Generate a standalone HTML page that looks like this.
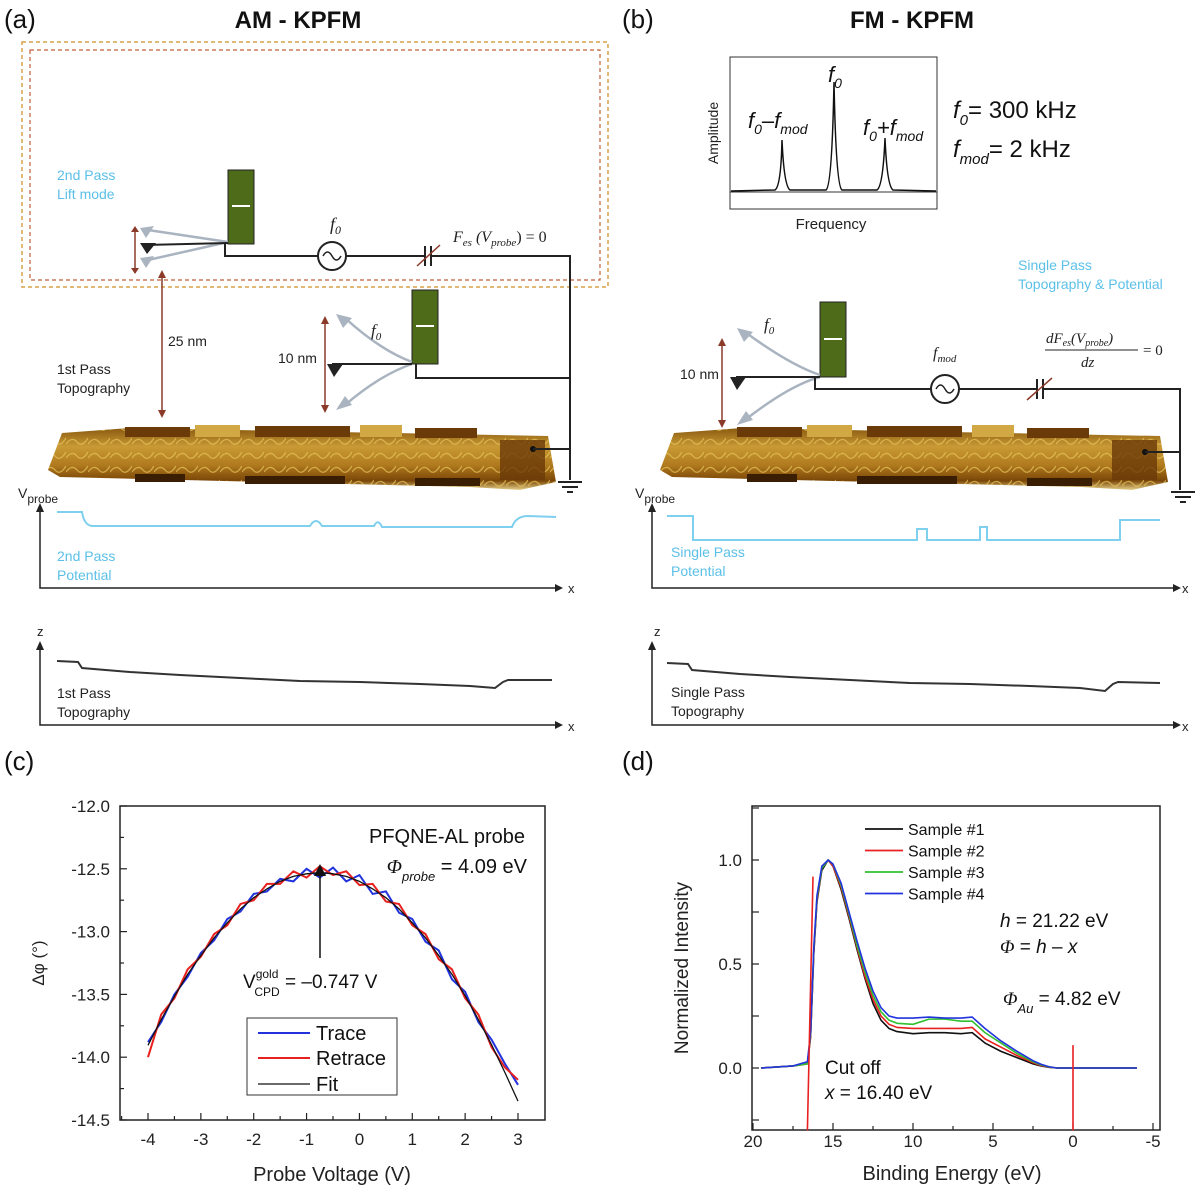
<!DOCTYPE html>
<html><head><meta charset="utf-8"><style>
html,body{margin:0;padding:0;background:#fff}
svg{display:block;font-family:"Liberation Sans",sans-serif}
.bl{fill:#5bc0e8;font-size:14px}
.bk{fill:#222;font-size:14px}
</style></head><body>
<svg id="fig" width="1200" height="1192" viewBox="0 0 1200 1192" xmlns="http://www.w3.org/2000/svg">
<defs>
<linearGradient id="topo" x1="0" y1="0" x2="0" y2="1">
<stop offset="0" stop-color="#8a5a10"/><stop offset="0.3" stop-color="#c99a35"/><stop offset="0.6" stop-color="#b07a1e"/><stop offset="0.85" stop-color="#7a4608"/><stop offset="1" stop-color="#e6d28a"/>
</linearGradient>
<pattern id="wav" width="22" height="14" patternUnits="userSpaceOnUse"><path d="M0 10 Q6 2 11 8 T22 4" stroke="#e8c45a" stroke-width="1.3" fill="none" opacity="0.7"/></pattern>
</defs>

<!-- panel labels / titles -->
<text x="4" y="28" font-size="26" fill="#111">(a)</text>
<text x="298" y="28" font-size="24" font-weight="bold" text-anchor="middle" fill="#111">AM - KPFM</text>
<text x="622" y="28" font-size="26" fill="#111">(b)</text>
<text x="912" y="28" font-size="24" font-weight="bold" text-anchor="middle" fill="#111">FM - KPFM</text>
<text x="4" y="770" font-size="26" fill="#111">(c)</text>
<text x="622" y="770" font-size="26" fill="#111">(d)</text>

<!-- ===== Panel A ===== -->
<g>
<rect x="22" y="42" width="586" height="245" fill="none" stroke="#d9a04a" stroke-width="1.5" stroke-dasharray="4 3"/>
<rect x="30" y="50" width="570" height="230" fill="none" stroke="#c0603a" stroke-width="1.2" stroke-dasharray="4 3"/>
<text class="bl" x="57" y="180">2nd Pass</text>
<text class="bl" x="57" y="199">Lift mode</text>
<rect x="228" y="170" width="26" height="74" fill="#4e6b1a" stroke="#222"/>
<line x1="232" y1="206" x2="250" y2="206" stroke="#fff" stroke-width="2"/>
<line x1="228" y1="242" x2="148" y2="230" stroke="#aab4c0" stroke-width="2.5"/>
<line x1="228" y1="242" x2="148" y2="260" stroke="#aab4c0" stroke-width="2.5"/>
<line x1="228" y1="243" x2="145" y2="245" stroke="#222" stroke-width="2"/>
<polygon points="140,228 154,226 146,238" fill="#aab4c0"/>
<polygon points="140,258 154,256 146,268" fill="#aab4c0"/>
<polygon points="140,243 156,243 147,254" fill="#222"/>
<line x1="135" y1="228" x2="135" y2="272" stroke="#8b3a2a" stroke-width="1.5"/>
<polygon points="131,232 139,232 135,226" fill="#8b3a2a"/><polygon points="131,268 139,268 135,274" fill="#8b3a2a"/>
<polyline points="225,244 225,256 318,256" fill="none" stroke="#222" stroke-width="2"/>
<circle cx="332" cy="256" r="14" fill="#fff" stroke="#222" stroke-width="2"/>
<path d="M323 256 q4.5 -8 9 0 t9 0" fill="none" stroke="#222" stroke-width="1.5"/>
<polyline points="346,256 425,256" fill="none" stroke="#222" stroke-width="2"/>
<line x1="425" y1="246" x2="425" y2="266" stroke="#222" stroke-width="2"/><line x1="431" y1="246" x2="431" y2="266" stroke="#222" stroke-width="2"/>
<line x1="417" y1="266" x2="440" y2="245" stroke="#8b3a2a" stroke-width="1.5"/>
<polyline points="431,256 570,256 570,480" fill="none" stroke="#222" stroke-width="2"/>
<line x1="558" y1="482" x2="582" y2="482" stroke="#222" stroke-width="2"/><line x1="562" y1="487" x2="578" y2="487" stroke="#222" stroke-width="2"/><line x1="567" y1="492" x2="573" y2="492" stroke="#222" stroke-width="2"/>
<text x="330" y="230" font-family="Liberation Serif,serif" font-style="italic" font-size="18" fill="#222">f<tspan font-size="12" dy="4">0</tspan></text>
<text x="453" y="242" font-family="Liberation Serif,serif" font-style="italic" font-size="16" fill="#222">F<tspan font-size="11" dy="4">es</tspan><tspan dy="-4"> (V</tspan><tspan font-size="11" dy="4">probe</tspan><tspan dy="-4" font-style="normal">)  =  0</tspan></text>
<line x1="162" y1="272" x2="162" y2="415" stroke="#8b3a2a" stroke-width="1.5"/>
<polygon points="158,278 166,278 162,270" fill="#8b3a2a"/><polygon points="158,410 166,410 162,418" fill="#8b3a2a"/>
<text class="bk" x="168" y="346">25 nm</text>
<text class="bk" x="57" y="374">1st Pass</text>
<text class="bk" x="57" y="393">Topography</text>
<rect x="412" y="290" width="26" height="74" fill="#4e6b1a" stroke="#222"/>
<line x1="416" y1="326" x2="434" y2="326" stroke="#fff" stroke-width="2"/>
<path d="M412 362 Q380 350 345 318" fill="none" stroke="#aab4c0" stroke-width="2.5"/>
<path d="M412 364 Q380 375 345 405" fill="none" stroke="#aab4c0" stroke-width="2.5"/>
<polygon points="336,314 352,318 343,328" fill="#aab4c0"/><polygon points="336,410 352,405 345,396" fill="#aab4c0"/>
<line x1="412" y1="364" x2="332" y2="364" stroke="#222" stroke-width="2"/>
<polygon points="327,364 343,364 334,377" fill="#222"/>
<text x="371" y="336" font-family="Liberation Serif,serif" font-style="italic" font-size="17" fill="#222">f<tspan font-size="11" dy="4">0</tspan></text>
<polyline points="416,364 416,378 570,378" fill="none" stroke="#222" stroke-width="2"/>
<line x1="325" y1="318" x2="325" y2="410" stroke="#8b3a2a" stroke-width="1.5"/>
<polygon points="321,324 329,324 325,316" fill="#8b3a2a"/><polygon points="321,405 329,405 325,413" fill="#8b3a2a"/>
<text class="bk" x="278" y="363">10 nm</text>
<g>
<polygon points="62,433 130,428 548,436 556,482 520,490 470,487 60,477 48,470" fill="url(#topo)"/>
<polygon points="62,433 130,428 548,436 556,482 520,490 470,487 60,477 48,470" fill="url(#wav)"/>
<rect x="125" y="427" width="65" height="10" fill="#6a3a08"/><rect x="255" y="426" width="95" height="11" fill="#6a3a08"/><rect x="415" y="428" width="62" height="10" fill="#6a3a08"/>
<rect x="195" y="425" width="45" height="12" fill="#d2a845"/><rect x="360" y="425" width="42" height="12" fill="#d2a845"/>
<rect x="135" y="474" width="50" height="8" fill="#3a1e04"/><rect x="245" y="476" width="100" height="8" fill="#3a1e04"/><rect x="415" y="478" width="65" height="8" fill="#3a1e04"/>
<rect x="500" y="440" width="45" height="40" fill="#6a3a08" opacity="0.8"/>
<circle cx="533" cy="449" r="3" fill="#111"/><line x1="533" y1="449" x2="570" y2="449" stroke="#222" stroke-width="2"/>
</g>
<text x="18" y="498" font-size="14" fill="#222">V<tspan font-size="12" dy="5">probe</tspan></text>
<polyline points="40,508 40,588 557,588" fill="none" stroke="#222" stroke-width="1.5"/>
<polygon points="36,512 44,512 40,503" fill="#222"/><polygon points="555,584 555,592 563,588" fill="#222"/>
<text x="568" y="593" font-size="13" fill="#222">x</text>
<path d="M57 512 L82 512 Q84 525 92 526 L310 526 Q316 516 322 526 L374 526 Q378 518 382 527 L512 527 Q516 516 528 516 L556 517" fill="none" stroke="#7fcfee" stroke-width="2"/>
<text class="bl" x="57" y="561">2nd Pass</text><text class="bl" x="57" y="580">Potential</text>
<text x="37" y="636" font-size="13" fill="#222">z</text>
<polyline points="40,646 40,725 557,725" fill="none" stroke="#222" stroke-width="1.5"/>
<polygon points="36,650 44,650 40,641" fill="#222"/><polygon points="555,721 555,729 563,725" fill="#222"/>
<text x="568" y="731" font-size="13" fill="#222">x</text>
<path d="M57 661 L78 662 L82 668 L130 672 L180 675 L260 679 L300 681 L360 682 L420 684 L470 686 L495 688 L503 682 L508 680 L552 680" fill="none" stroke="#333" stroke-width="2"/>
<text class="bk" x="57" y="698">1st Pass</text><text class="bk" x="57" y="717">Topography</text>
</g>

<!-- ===== Panel B ===== -->
<g>
<rect x="730" y="57" width="207" height="152" fill="#fff" stroke="#333"/>
<line x1="730" y1="192" x2="937" y2="192" stroke="#333"/>
<path d="M731 191 L775 190 Q781 186 782 140 Q784 186 790 190 L826 190 Q832 186 834 82 Q836 186 842 190 L877 190 Q883 186 885 138 Q887 186 893 190 L936 191" fill="none" stroke="#111" stroke-width="1.5"/>
<text x="718" y="133" font-size="14" fill="#222" transform="rotate(-90 718 133)" text-anchor="middle">Amplitude</text>
<text x="831" y="229" font-size="15" fill="#222" text-anchor="middle">Frequency</text>
<text x="748" y="128" font-size="22" font-style="italic" fill="#111">f<tspan font-size="14" dy="6">0</tspan><tspan dy="-6">–f</tspan><tspan font-size="14" dy="6">mod</tspan></text>
<text x="828" y="82" font-size="22" font-style="italic" fill="#111">f<tspan font-size="14" dy="6">0</tspan></text>
<text x="863" y="135" font-size="22" font-style="italic" fill="#111">f<tspan font-size="14" dy="6">0</tspan><tspan dy="-6">+f</tspan><tspan font-size="14" dy="6">mod</tspan></text>
<text x="953" y="118" font-size="24" fill="#111"><tspan font-style="italic">f</tspan><tspan font-size="15" dy="7" font-style="italic">0</tspan><tspan dy="-7">= 300 kHz</tspan></text>
<text x="953" y="157" font-size="24" fill="#111"><tspan font-style="italic">f</tspan><tspan font-size="15" dy="7" font-style="italic">mod</tspan><tspan dy="-7">= 2 kHz</tspan></text>
<text class="bl" x="1018" y="270">Single Pass</text><text class="bl" x="1018" y="289">Topography &amp; Potential</text>
<rect x="820" y="302" width="26" height="75" fill="#4e6b1a" stroke="#222"/>
<line x1="824" y1="339" x2="842" y2="339" stroke="#fff" stroke-width="2"/>
<path d="M820 375 Q790 365 745 332" fill="none" stroke="#aab4c0" stroke-width="2.5"/>
<path d="M820 377 Q790 385 745 420" fill="none" stroke="#aab4c0" stroke-width="2.5"/>
<polygon points="737,328 753,332 744,342" fill="#aab4c0"/><polygon points="737,425 753,420 746,411" fill="#aab4c0"/>
<line x1="820" y1="377" x2="736" y2="377" stroke="#222" stroke-width="2"/>
<polygon points="730,377 746,377 737,390" fill="#222"/>
<text x="764" y="330" font-family="Liberation Serif,serif" font-style="italic" font-size="17" fill="#222">f<tspan font-size="11" dy="4">0</tspan></text>
<line x1="722" y1="340" x2="722" y2="425" stroke="#8b3a2a" stroke-width="1.5"/>
<polygon points="718,346 726,346 722,338" fill="#8b3a2a"/><polygon points="718,420 726,420 722,428" fill="#8b3a2a"/>
<text class="bk" x="680" y="379">10 nm</text>
<polyline points="815,377 815,389 931,389" fill="none" stroke="#222" stroke-width="2"/>
<circle cx="945" cy="389" r="14" fill="#fff" stroke="#222" stroke-width="2"/>
<path d="M936 389 q4.5 -8 9 0 t9 0" fill="none" stroke="#222" stroke-width="1.5"/>
<polyline points="959,389 1037,389" fill="none" stroke="#222" stroke-width="2"/>
<line x1="1037" y1="379" x2="1037" y2="399" stroke="#222" stroke-width="2"/><line x1="1043" y1="379" x2="1043" y2="399" stroke="#222" stroke-width="2"/>
<line x1="1027" y1="400" x2="1052" y2="378" stroke="#8b3a2a" stroke-width="1.5"/>
<polyline points="1043,389 1180,389 1180,490" fill="none" stroke="#222" stroke-width="2"/>
<line x1="1171" y1="492" x2="1195" y2="492" stroke="#222" stroke-width="2"/><line x1="1175" y1="497" x2="1191" y2="497" stroke="#222" stroke-width="2"/><line x1="1180" y1="502" x2="1186" y2="502" stroke="#222" stroke-width="2"/>
<text x="933" y="358" font-family="Liberation Serif,serif" font-style="italic" font-size="16" fill="#222">f<tspan font-size="11" dy="4">mod</tspan></text>
<g font-family="Liberation Serif,serif" font-style="italic" font-size="15" fill="#222">
<text x="1046" y="343">dF<tspan font-size="10" dy="3">es</tspan><tspan dy="-3">(V</tspan><tspan font-size="10" dy="3">probe</tspan><tspan dy="-3">)</tspan></text>
<line x1="1045" y1="350" x2="1138" y2="350" stroke="#222"/>
<text x="1081" y="367">dz</text>
<text x="1143" y="355" font-style="normal">=  0</text>
</g>
<g>
<polygon points="674,433 742,428 1160,436 1168,482 1132,490 1082,487 672,477 660,470" fill="url(#topo)"/>
<polygon points="674,433 742,428 1160,436 1168,482 1132,490 1082,487 672,477 660,470" fill="url(#wav)"/>
<rect x="737" y="427" width="65" height="10" fill="#6a3a08"/><rect x="867" y="426" width="95" height="11" fill="#6a3a08"/><rect x="1027" y="428" width="62" height="10" fill="#6a3a08"/>
<rect x="807" y="425" width="45" height="12" fill="#d2a845"/><rect x="972" y="425" width="42" height="12" fill="#d2a845"/>
<rect x="747" y="474" width="50" height="8" fill="#3a1e04"/><rect x="857" y="476" width="100" height="8" fill="#3a1e04"/><rect x="1027" y="478" width="65" height="8" fill="#3a1e04"/>
<rect x="1112" y="440" width="45" height="40" fill="#6a3a08" opacity="0.8"/>
<circle cx="1145" cy="452" r="3" fill="#111"/><line x1="1145" y1="452" x2="1180" y2="452" stroke="#222" stroke-width="2"/>
</g>
<text x="635" y="498" font-size="14" fill="#222">V<tspan font-size="12" dy="5">probe</tspan></text>
<polyline points="652,508 652,588 1175,588" fill="none" stroke="#222" stroke-width="1.5"/>
<polygon points="648,512 656,512 652,503" fill="#222"/><polygon points="1173,584 1173,592 1181,588" fill="#222"/>
<text x="1182" y="593" font-size="13" fill="#222">x</text>
<polyline points="667,516 693,516 693,540 917,540 917,529 927,529 927,540 980,540 980,527 987,527 987,540 1120,540 1120,520 1160,520" fill="none" stroke="#7fcfee" stroke-width="2"/>
<text class="bl" x="671" y="557">Single Pass</text><text class="bl" x="671" y="576">Potential</text>
<text x="654" y="636" font-size="13" fill="#222">z</text>
<polyline points="652,646 652,725 1175,725" fill="none" stroke="#222" stroke-width="1.5"/>
<polygon points="648,650 656,650 652,641" fill="#222"/><polygon points="1173,721 1173,729 1181,725" fill="#222"/>
<text x="1182" y="731" font-size="13" fill="#222">x</text>
<path d="M667 663 L688 664 L692 670 L740 674 L790 677 L870 681 L910 683 L970 684 L1030 686 L1080 688 L1105 691 L1113 684 L1118 682 L1160 683" fill="none" stroke="#333" stroke-width="2"/>
<text class="bk" x="671" y="697">Single Pass</text><text class="bk" x="671" y="716">Topography</text>
</g>

<g id="chartC"></g>
<g id="chartD"></g>
</svg>
<script>
// ---- Panel C data ----
const cVoltage = [-4,-3.75,-3.5,-3.25,-3,-2.75,-2.5,-2.25,-2,-1.75,-1.5,-1.25,-1,-0.75,-0.5,-0.25,0,0.25,0.5,0.75,1,1.25,1.5,1.75,2,2.25,2.5,2.75,3];
const cTrace = [-13.88,-13.72,-13.50,-13.36,-13.17,-13.07,-12.90,-12.84,-12.70,-12.68,-12.58,-12.60,-12.50,-12.57,-12.49,-12.60,-12.55,-12.70,-12.68,-12.85,-12.90,-13.08,-13.15,-13.38,-13.48,-13.72,-13.86,-14.05,-14.22];
const cRetrace = [-14.0,-13.66,-13.53,-13.30,-13.20,-13.02,-12.95,-12.78,-12.75,-12.62,-12.62,-12.52,-12.57,-12.48,-12.55,-12.52,-12.63,-12.62,-12.76,-12.78,-12.95,-13.02,-13.22,-13.30,-13.53,-13.66,-13.92,-14.08,-14.18];
const cFit = [-13.905,-13.70,-13.515,-13.34,-13.19,-13.05,-12.93,-12.82,-12.73,-12.66,-12.60,-12.56,-12.54,-12.53,-12.54,-12.56,-12.60,-12.66,-12.73,-12.82,-12.93,-13.05,-13.19,-13.34,-13.51,-13.70,-13.90,-14.12,-14.35];
const cXTicks = [-4,-3,-2,-1,0,1,2,3];
const cYTicks = [-12.0,-12.5,-13.0,-13.5,-14.0,-14.5];
// ---- Panel D data ----
const dEnergy = [19.5,17.5,16.6,16.4,16.2,16.0,15.7,15.3,15.0,14.5,14.0,13.5,13.0,12.5,12.0,11.5,11.0,10.0,9.0,8.0,7.0,6.3,5.5,4.5,3.5,2.5,2.0,1.5,1.0,0,-2,-4];
const dSample1 = [0,0.01,0.02,0.15,0.55,0.8,0.95,1.0,0.97,0.86,0.72,0.57,0.43,0.31,0.23,0.19,0.175,0.165,0.17,0.17,0.165,0.17,0.12,0.08,0.05,0.02,0.01,0.003,0,0,0,0];
const dSample2 = [0,0.01,0.02,0.15,0.56,0.81,0.96,1.0,0.97,0.87,0.73,0.58,0.44,0.33,0.25,0.21,0.195,0.19,0.19,0.19,0.19,0.195,0.14,0.10,0.06,0.025,0.012,0.004,0,0,0,0];
const dSample3 = [0,0.01,0.02,0.16,0.57,0.82,0.96,1.0,0.98,0.88,0.74,0.59,0.46,0.35,0.27,0.23,0.215,0.21,0.235,0.235,0.225,0.225,0.17,0.12,0.07,0.03,0.015,0.005,0,0,0,0];
const dSample4 = [0,0.01,0.03,0.17,0.58,0.83,0.97,1.0,0.98,0.89,0.75,0.61,0.48,0.37,0.29,0.25,0.24,0.24,0.245,0.24,0.24,0.245,0.19,0.13,0.08,0.035,0.018,0.006,0,0,0,0];
const dXTicks = [20,15,10,5,0,-5];
const dYTicks = [0.0,0.5,1.0];
const dSeriesNames = ["Sample #1","Sample #2","Sample #3","Sample #4"];

const NS="http://www.w3.org/2000/svg";
function mk(parent,tag,attrs,text){const e=document.createElementNS(NS,tag);for(const k in attrs)e.setAttribute(k,attrs[k]);if(text!==undefined)e.textContent=text;parent.appendChild(e);return e;}

// Panel C
(function(){
 const g=document.getElementById('chartC');
 const L=120,R=545,T=806,B=1120;
 const xs=v=>148+(v+4)*(518-148)/7;
 const ys=v=>806+(-12-v)*(1120-806)/2.5;
 mk(g,'rect',{x:L,y:T,width:R-L,height:B-T,fill:'none',stroke:'#222','stroke-width':1.5});
 for(let v=-4.5;v<=3.01;v+=0.5){const x=xs(v);const major=Number.isInteger(v);mk(g,'line',{x1:x,y1:B,x2:x,y2:B-(major?7:4),stroke:'#222','stroke-width':1.2});}
 cXTicks.forEach(v=>{const t=mk(g,'text',{x:xs(v),y:1145,'font-size':17,'text-anchor':'middle',fill:'#222'},String(v));});
 for(let v=-12;v>=-14.51;v-=0.25){const y=ys(v);const major=Math.abs(v*2-Math.round(v*2))<1e-6;mk(g,'line',{x1:L,y1:y,x2:L+(major?7:4),y2:y,stroke:'#222','stroke-width':1.2});}
 cYTicks.forEach(v=>{const t=mk(g,'text',{x:110,y:ys(v)+6,'font-size':17,'text-anchor':'end',fill:'#222'},v.toFixed(1));});
 const yt=mk(g,'text',{x:44,y:963,'font-size':17,'text-anchor':'middle',fill:'#222',transform:'rotate(-90 44 963)'},'Δφ (°)');
 
 const xt=mk(g,'text',{x:332,y:1181,'font-size':20,'text-anchor':'middle',fill:'#222'},'Probe Voltage (V)');
 
 function line(arr,col,w,name){const p=mk(g,'polyline',{points:cVoltage.map((v,i)=>xs(v)+','+ys(arr[i])).join(' '),fill:'none',stroke:col,'stroke-width':w});}
 line(cTrace,'#2233dd',2,'trace-line');
 line(cRetrace,'#e82020',2,'retrace-line');
 line(cFit,'#111',1.3,'fit-line');
 const t1=mk(g,'text',{x:525,y:843,'font-size':20,'text-anchor':'end',fill:'#111'},'PFQNE-AL probe');
 
 const t2=mk(g,'text',{x:527,y:873,'font-size':20,'text-anchor':'end',fill:'#111'});
 t2.innerHTML='<tspan font-style="italic" font-family="Liberation Serif,serif">Φ</tspan><tspan font-size="13" font-style="italic" dy="8">probe</tspan><tspan dy="-8"> = 4.09 eV</tspan>';
 
 mk(g,'line',{x1:320,y1:958,x2:320,y2:872,stroke:'#111','stroke-width':1.5});
 mk(g,'polygon',{points:'314,876 326,876 320,864',fill:'#111'});
 const t3=mk(g,'text',{x:243,y:988,'font-size':19,fill:'#111'});
 t3.innerHTML='V<tspan font-size="12" dy="-10">gold</tspan><tspan font-size="12" dx="-24" dy="18">CPD</tspan><tspan dy="-8"> = –0.747 V</tspan>';
 
 const lg=mk(g,'g',{});
 mk(lg,'rect',{x:247,y:1018,width:150,height:77,fill:'#fff',stroke:'#333'});
 [['Trace','#2233dd',1033],['Retrace','#e82020',1058],['Fit','#111',1084]].forEach(e=>{
  const it=mk(lg,'g',{});
  mk(it,'line',{x1:258,y1:e[2],x2:310,y2:e[2],stroke:e[1],'stroke-width':e[0]==='Fit'?1.3:2});
  mk(it,'text',{x:316,y:e[2]+7,'font-size':20,fill:'#111'},e[0]);});
})();

// Panel D
(function(){
 const g=document.getElementById('chartD');
 const L=752,R=1160,T=806,B=1130;
 const xs=e=>1073-e*16;
 const ys=v=>1068-v*208;
 mk(g,'rect',{x:L,y:T,width:R-L,height:B-T,fill:'none',stroke:'#222','stroke-width':1.5});
 for(let e=20;e>=-5;e-=2.5){const x=xs(e);const major=e%5===0;mk(g,'line',{x1:x,y1:B,x2:x,y2:B-(major?7:4),stroke:'#222','stroke-width':1.2});}
 dXTicks.forEach(v=>{const t=mk(g,'text',{x:xs(v),y:1147,'font-size':17,'text-anchor':'middle',fill:'#222'},String(v));});
 for(let v=-0.25;v<=1.26;v+=0.25){const y=ys(v);mk(g,'line',{x1:L,y1:y,x2:L+7,y2:y,stroke:'#222','stroke-width':1.2});}
 dYTicks.forEach(v=>{const t=mk(g,'text',{x:742,y:ys(v)+6,'font-size':17,'text-anchor':'end',fill:'#222'},v.toFixed(1));});
 const yt=mk(g,'text',{x:688,y:968,'font-size':19,'text-anchor':'middle',fill:'#222',transform:'rotate(-90 688 968)'},'Normalized Intensity');
 
 const xt=mk(g,'text',{x:952,y:1180,'font-size':20,'text-anchor':'middle',fill:'#222'},'Binding Energy (eV)');
 
 const cols=['#111','#e82020','#30c030','#2233dd'];
 [dSample1,dSample2,dSample3,dSample4].forEach((arr,k)=>{
  const p=mk(g,'polyline',{points:dEnergy.map((e,i)=>xs(e)+','+ys(arr[i])).join(' '),fill:'none',stroke:cols[k],'stroke-width':1.6,'stroke-linejoin':'round'});
  });
 const f1=mk(g,'line',{x1:xs(16.6),y1:ys(-0.3),x2:xs(16.25),y2:ys(0.92),stroke:'#e82020','stroke-width':1.6});
 
 const f2=mk(g,'line',{x1:xs(0),y1:ys(0.11),x2:xs(0),y2:ys(-0.3),stroke:'#e82020','stroke-width':1.6});
 
 const lg=mk(g,'g',{});
 dSeriesNames.forEach((n,k)=>{const y=829+k*21.5;
  const it=mk(lg,'g',{});
  mk(it,'line',{x1:865,y1:y,x2:903,y2:y,stroke:cols[k],'stroke-width':1.8});
  mk(it,'text',{x:908,y:y+6,'font-size':16,fill:'#111'},n);});
 const a=mk(g,'text',{x:1000,y:927,'font-size':19,fill:'#111'});a.innerHTML='<tspan font-style="italic">h</tspan> = 21.22 eV';
 
 const b=mk(g,'text',{x:1000,y:953,'font-size':19,fill:'#111'});b.innerHTML='<tspan font-style="italic" font-family="Liberation Serif,serif">Φ</tspan> = <tspan font-style="italic">h</tspan> – <tspan font-style="italic">x</tspan>';
 
 const c=mk(g,'text',{x:1003,y:1005,'font-size':19,fill:'#111'});c.innerHTML='<tspan font-style="italic" font-family="Liberation Serif,serif">Φ</tspan><tspan font-size="13" font-style="italic" dy="8">Au</tspan><tspan dy="-8"> = 4.82 eV</tspan>';
 
 const d=mk(g,'text',{x:825,y:1074,'font-size':19,fill:'#111'},'Cut off');
 
 const e=mk(g,'text',{x:825,y:1099,'font-size':19,fill:'#111'});e.innerHTML='<tspan font-style="italic">x</tspan> = 16.40 eV';
 
})();
</script>
</body></html>
